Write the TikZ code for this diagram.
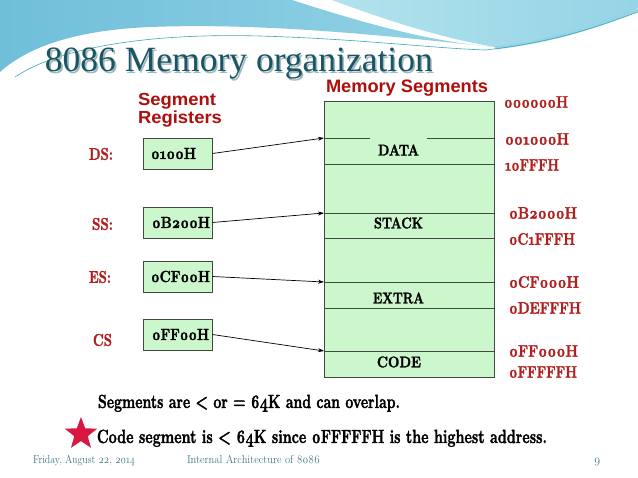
\documentclass[tikz,border=0pt]{standalone}
\usepackage{fontspec}
\setmainfont{Latin Modern Roman}[Numbers=OldStyle, BoldFeatures={FakeBold=2}]
\newfontfamily\titlefont{Liberation Serif}
\newfontfamily\hfont{Liberation Sans}
\usetikzlibrary{arrows.meta,shapes.geometric}
\definecolor{wavea}{HTML}{6FBFDA}
\definecolor{waveb}{HTML}{95D3E6}
\definecolor{wavec}{HTML}{B2E3EC}
\definecolor{waveline}{HTML}{3FA7B8}
\definecolor{titlec}{HTML}{1A5564}
\definecolor{titlesh}{HTML}{9FB8BF}
\definecolor{redlab}{HTML}{B01E1E}
\definecolor{headred}{HTML}{B00D0D}
\definecolor{boxfill}{HTML}{CCF7CC}
\definecolor{boxline}{HTML}{404A40}
\definecolor{footc}{HTML}{3E7787}
\definecolor{starc}{HTML}{D81840}
\newcommand\fitw[2]{\resizebox{#1}{\height}{#2}}
\tikzset{
  txt/.style={inner sep=0pt, outer sep=0pt},
  regbox/.style={draw=boxline, fill=boxfill, line width=0.8pt, minimum width=69pt, minimum height=31pt, inner sep=0pt},
  regval/.style={txt, anchor=west, font=\bfseries\fontsize{16}{18}\selectfont},
  reglab/.style={txt, anchor=west, text=redlab, font=\bfseries\fontsize{17}{18}\selectfont},
  addr/.style={txt, anchor=west, text=redlab, font=\bfseries\fontsize{16.5}{18}\selectfont},
  seglab/.style={txt, font=\bfseries\fontsize{15.5}{18}\selectfont},
  memline/.style={draw=boxline, line width=0.8pt},
  ptr/.style={draw=black, line width=0.7pt, -{Stealth[length=6pt,width=4pt]}},
  foot/.style={txt, anchor=base west, text=footc, font=\fontsize{11.5}{13}\selectfont},
}
\begin{document}
\begin{tikzpicture}[x=1pt,y=-1pt]
\useasboundingbox (0,0) rectangle (638,478);
\fill[white] (0,0) rectangle (638,478);
% top wave decoration
\shade[left color=wavea, right color=waveb] (0,0) -- (292,0)
  .. controls (360,22) and (430,42) .. (495,47)
  .. controls (420,40) and (280,22) .. (150,27)
  .. controls (80,30) and (30,45) .. (0,72) -- cycle;
\shade[left color=wavec, right color=waveb] (332,0) -- (638,0) -- (638,8)
  .. controls (600,26) and (550,42) .. (495,47)
  .. controls (440,38) and (380,18) .. (332,0) -- cycle;
\draw[waveb, line width=3pt] (495,48) .. controls (560,40) and (600,25) .. (638,10);
\draw[waveline, line width=0.6pt] (15,77) .. controls (60,47) and (150,33) .. (260,36) .. controls (360,39) and (430,48) .. (485,50);
\draw[waveline, line width=0.6pt] (485,50) .. controls (560,42) and (610,22) .. (638,12);
% title
\node[txt, anchor=base west, text=titlesh, font=\titlefont\fontsize{35.5}{40}\selectfont] (titlesh) at (46.5,73.5) {8086 Memory organization};
\node[txt, anchor=base west, text=titlec, font=\titlefont\fontsize{35.5}{40}\selectfont] (title) at (45,72) {8086 Memory organization};
% headings
\node[txt, anchor=base west, text=headred, font=\hfont\bfseries\fontsize{18}{18}\selectfont] (memhead) at (326,93) {\fitw{162pt}{Memory Segments}};
\node[txt, anchor=base west, text=headred, font=\hfont\bfseries\fontsize{17.5}{18}\selectfont] (reghead1) at (138,106) {\fitw{78pt}{Segment}};
\node[txt, anchor=base west, text=headred, font=\hfont\bfseries\fontsize{17.5}{18}\selectfont] (reghead2) at (138,124) {\fitw{84pt}{Registers}};
% memory block
\node[draw=boxline, fill=boxfill, line width=0.8pt, minimum width=170pt, minimum height=276pt, inner sep=0pt] (mem) at (409,239) {};
\coordinate (mds) at (324,138);
\coordinate (mss) at (324,213);
\coordinate (mes) at (324,282);
\coordinate (mcs) at (324,351);
\coordinate (mdsa) at (370,138);
\coordinate (mdsb) at (427,138);
\coordinate (mdsr) at (494,138);
\coordinate (md2l) at (324,164);
\coordinate (md2r) at (494,164);
\coordinate (mssr) at (494,213);
\coordinate (ms2l) at (324,238);
\coordinate (ms2r) at (494,238);
\coordinate (mesr) at (494,282);
\coordinate (me2l) at (324,308);
\coordinate (me2r) at (494,308);
\coordinate (mcsr) at (494,351);
\path[memline] (mds) -- (mdsa) (mdsb) -- (mdsr) (md2l) -- (md2r)
  (mss) -- (mssr) (ms2l) -- (ms2r) (mes) -- (mesr) (me2l) -- (me2r) (mcs) -- (mcsr);
\node[seglab] (data) at (398.5,150) {\fitw{41pt}{DATA}};
\node[seglab] (stack) at (398.5,223) {\fitw{49pt}{STACK}};
\node[seglab] (extra) at (398.5,298) {\fitw{51pt}{EXTRA}};
\node[seglab] (code) at (399,362) {\fitw{44pt}{CODE}};
% addresses
\node[addr] (a1) at (504,102) {\fitw{64pt}{000000H}};
\node[addr] (a2) at (505,139) {\fitw{64pt}{001000H}};
\node[addr] (a3) at (505,165) {\fitw{54pt}{10FFFH}};
\node[addr] (a4) at (509,213) {\fitw{68pt}{0B2000H}};
\node[addr] (a5) at (509,239) {\fitw{66pt}{0C1FFFH}};
\node[addr] (a6) at (509,282) {\fitw{70pt}{0CF000H}};
\node[addr] (a7) at (509,308) {\fitw{72pt}{0DEFFFH}};
\node[addr] (a8) at (509,351) {\fitw{69pt}{0FF000H}};
\node[addr] (a9) at (509,372) {\fitw{68pt}{0FFFFFH}};
% registers
\node[regbox] (ds) at (177.5,153.5) {};
\node[regbox] (ss) at (177.5,222.5) {};
\node[regbox] (es) at (177.5,276.5) {};
\node[regbox] (cs) at (177.5,334.5) {};
\node[regval] (dsv) at (151,153.5) {\fitw{45pt}{0100H}};
\node[regval] (ssv) at (152,222.5) {\fitw{58pt}{0B200H}};
\node[regval] (esv) at (151,276.5) {\fitw{59pt}{0CF00H}};
\node[regval] (csv) at (152,334.5) {\fitw{57pt}{0FF00H}};
\node[reglab] (dsl) at (89,154) {\fitw{24pt}{DS:}};
\node[reglab] (ssl) at (92,224) {\fitw{21pt}{SS:}};
\node[reglab] (esl) at (89,277) {\fitw{22pt}{ES:}};
\node[reglab] (csl) at (93,340) {\fitw{19pt}{CS}};
\draw[ptr] (ds.east) -- (mds);
\draw[ptr] (ss.east) -- (mss);
\draw[ptr] (es.east) -- (mes);
\draw[ptr] (cs.east) -- (mcs);
% notes
\node[txt, anchor=base west, font=\bfseries\fontsize{19}{20}\selectfont] (note1) at (98,408) {\fitw{302pt}{Segments are < or = 64K and can overlap.}};
\node[star, star points=5, star point ratio=2.4, fill=starc, minimum size=34pt, inner sep=0pt] (star) at (81,434) {};
\node[txt, anchor=base west, font=\bfseries\fontsize{19}{20}\selectfont] (note2) at (97,443) {\fitw{450pt}{Code segment is < 64K since 0FFFFFH is the highest address.}};
% footer
\node[foot] (f1) at (33,464) {\fitw{102pt}{Friday, August 22, 2014}};
\node[foot] (f2) at (187,464) {\fitw{133pt}{Internal Architecture of 8086}};
\node[foot] (f3) at (594,464) {9};
\end{tikzpicture}
\end{document}
